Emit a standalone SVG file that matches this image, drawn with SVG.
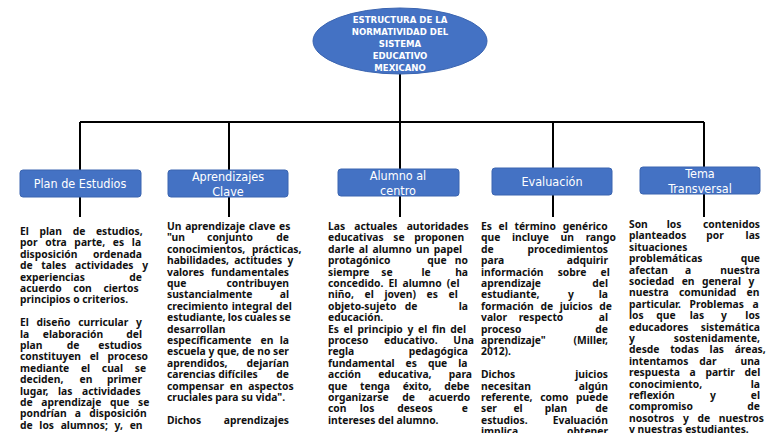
<svg xmlns="http://www.w3.org/2000/svg" width="768" height="433" viewBox="0 0 768 433">
<style>
.n{fill:#4472c4;stroke:#3a64b0;stroke-width:1}
.lbl{font-family:"DejaVu Sans Condensed","DejaVu Sans",sans-serif;font-size:12.5px;fill:#fff;text-anchor:middle}
.ttl{font-family:"DejaVu Sans Condensed","DejaVu Sans",sans-serif;font-size:9.5px;font-weight:bold;fill:#fff;text-anchor:middle}
.c{stroke:#000;stroke-width:2;fill:none}
.t text{font-family:"Noto Sans","Open Sans",sans-serif;font-size:10.3px;font-weight:bold;fill:#111}
.t .m{text-anchor:middle}
.t .e{text-anchor:end}
</style>
<rect width="768" height="433" fill="#fff"/>
<g id="connectors">
<path class="c" d="M400 74V122M80 122H704M80 122V170M229 122V170M400 122V169M553 122V168M704 122V167M80 197V217M229 197V217M400 196V217M553 195V217M704 194V217"/>
</g>
<g id="root">
<ellipse class="n" cx="400" cy="41" rx="87" ry="33"/>
<text class="ttl"><tspan x="400" y="23">ESTRUCTURA DE LA</tspan><tspan x="400" y="35">NORMATIVIDAD DEL</tspan><tspan x="400" y="47">SISTEMA</tspan><tspan x="400" y="59">EDUCATIVO</tspan><tspan x="400" y="71">MEXICANO</tspan></text>
</g>
<g id="plan"><rect class="n" x="20" y="170" width="121" height="27" rx="3"/><text class="lbl" x="80" y="188">Plan de Estudios</text></g>
<g id="aprendizajes"><rect class="n" x="168" y="170" width="120" height="27" rx="3"/><text class="lbl"><tspan x="228" y="181">Aprendizajes</tspan><tspan x="228" y="196">Clave</tspan></text></g>
<g id="alumno"><rect class="n" x="338" y="169" width="121" height="27" rx="3"/><text class="lbl"><tspan x="398" y="180">Alumno al</tspan><tspan x="398" y="195">centro</tspan></text></g>
<g id="evaluacion"><rect class="n" x="492" y="168" width="120" height="27" rx="3"/><text class="lbl" x="552" y="186">Evaluación</text></g>
<g id="tema"><rect class="n" x="640" y="167" width="120" height="27" rx="3"/><text class="lbl"><tspan x="700" y="178">Tema</tspan><tspan x="700" y="193">Transversal</tspan></text></g>
<g id="texto-plan" class="t">
<text x="20" y="235" word-spacing="8">El plan de estudios,</text>
<text x="20" y="246.4" word-spacing="5">por otra parte, es la</text>
<text x="20" y="257.8">disposición</text><text class="e" x="142" y="257.8">ordenada</text>
<text x="20" y="269.2" word-spacing="6">de tales actividades y</text>
<text x="20" y="280.6">experiencias</text><text class="e" x="142" y="280.6">de</text>
<text x="20" y="292" word-spacing="9">acuerdo con ciertos</text>
<text x="20" y="303.4">principios o criterios.</text>
<text x="20" y="326.2" word-spacing="5">El diseño curricular y</text>
<text x="20" y="337.6">la</text><text class="m" x="73" y="337.6">elaboración</text><text class="e" x="142" y="337.6">del</text>
<text x="20" y="349">plan</text><text class="m" x="73" y="349">de</text><text class="e" x="142" y="349">estudios</text>
<text x="20" y="360.4" word-spacing="6">constituyen el proceso</text>
<text x="20" y="371.8" word-spacing="9">mediante el cual se</text>
<text x="20" y="383.2">deciden,</text><text class="m" x="86" y="383.2">en</text><text class="e" x="142" y="383.2">primer</text>
<text x="20" y="394.6" word-spacing="7">lugar, las actividades</text>
<text x="20" y="406" word-spacing="6">de aprendizaje que se</text>
<text x="20" y="417.4" word-spacing="5.5">pondrían a disposición</text>
<text x="20" y="428.8" word-spacing="4">de los alumnos; y, en</text>
</g>
<g id="texto-aprendizajes" class="t">
<text x="167" y="230" word-spacing="1">Un aprendizaje clave es</text>
<text x="167" y="241.4">"un</text><text class="m" x="230" y="241.4">conjunto</text><text class="e" x="289" y="241.4">de</text>
<text x="167" y="252.8" word-spacing="4">conocimientos, prácticas,</text>
<text x="167" y="264.2" word-spacing="2.5">habilidades, actitudes y</text>
<text x="167" y="275.6">valores</text><text class="e" x="289" y="275.6">fundamentales</text>
<text x="167" y="287">que</text><text class="e" x="289" y="287">contribuyen</text>
<text x="167" y="298.4">sustancialmente</text><text class="e" x="289" y="298.4">al</text>
<text x="167" y="309.8" word-spacing="1">crecimiento integral del</text>
<text x="167" y="321.2" word-spacing="-0.5">estudiante, los cuales se</text>
<text x="167" y="332.6">desarrollan</text>
<text x="167" y="344">específicamente</text><text class="m" x="267" y="344">en</text><text class="e" x="289" y="344">la</text>
<text x="167" y="355.4">escuela y que, de no ser</text>
<text x="167" y="366.8">aprendidos,</text><text class="e" x="289" y="366.8">dejarían</text>
<text x="167" y="378.2">carencias</text><text class="m" x="238" y="378.2">difíciles</text><text class="e" x="289" y="378.2">de</text>
<text x="167" y="389.6" word-spacing="3">compensar en aspectos</text>
<text x="167" y="401">cruciales para su vida".</text>
<text x="167" y="423.8">Dichos</text><text class="e" x="289" y="423.8">aprendizajes</text>
</g>
<g id="texto-alumno" class="t">
<text x="328" y="230" word-spacing="6.5">Las actuales autoridades</text>
<text x="328" y="241.4" word-spacing="7">educativas se proponen</text>
<text x="328" y="252.8" word-spacing="1.7">darle al alumno un papel</text>
<text x="328" y="264.2">protagónico</text><text class="m" x="437" y="264.2">que</text><text class="e" x="468" y="264.2">no</text>
<text x="328" y="275.6">siempre</text><text class="m" x="387" y="275.6">se</text><text class="m" x="426" y="275.6">le</text><text class="e" x="468" y="275.6">ha</text>
<text x="328" y="287" word-spacing="2.5">concedido. El alumno (el</text>
<text x="328" y="298.4" word-spacing="8">niño, el joven) es el</text>
<text x="328" y="309.8">objeto-sujeto</text><text class="m" x="411" y="309.8">de</text><text class="e" x="468" y="309.8">la</text>
<text x="328" y="321.2">educación.</text>
<text x="328" y="332.6" word-spacing="2">Es el principio y el fin del</text>
<text x="328" y="344" word-spacing="13">proceso educativo. Una</text>
<text x="328" y="355.4">regla</text><text class="e" x="468" y="355.4">pedagógica</text>
<text x="328" y="366.8" word-spacing="8.3">fundamental es que la</text>
<text x="328" y="378.2" word-spacing="14.5">acción educativa, para</text>
<text x="328" y="389.6" word-spacing="10">que tenga éxito, debe</text>
<text x="328" y="401" word-spacing="11">organizarse de acuerdo</text>
<text x="328" y="412.4">con</text><text class="m" x="367" y="412.4">los</text><text class="m" x="415" y="412.4">deseos</text><text class="e" x="468" y="412.4">e</text>
<text x="328" y="423.8">intereses del alumno.</text>
</g>
<g id="texto-evaluacion" class="t">
<text x="481" y="230" word-spacing="4">Es el término genérico</text>
<text x="481" y="241.4" word-spacing="9">que incluye un rango</text>
<text x="481" y="252.8">de</text><text class="e" x="608" y="252.8">procedimientos</text>
<text x="481" y="264.2">para</text><text class="e" x="608" y="264.2">adquirir</text>
<text x="481" y="275.6" word-spacing="11.5">información sobre el</text>
<text x="481" y="287">aprendizaje</text><text class="e" x="608" y="287">del</text>
<text x="481" y="298.4">estudiante,</text><text class="m" x="571" y="298.4">y</text><text class="e" x="608" y="298.4">la</text>
<text x="481" y="309.8" word-spacing="4">formación de juicios de</text>
<text x="481" y="321.2">valor</text><text class="m" x="541" y="321.2">respecto</text><text class="e" x="608" y="321.2">al</text>
<text x="481" y="332.6">proceso</text><text class="e" x="608" y="332.6">de</text>
<text x="481" y="344">aprendizaje"</text><text class="e" x="608" y="344">(Miller,</text>
<text x="481" y="355.4">2012).</text>
<text x="481" y="378.2">Dichos</text><text class="e" x="608" y="378.2">juicios</text>
<text x="481" y="389.6">necesitan</text><text class="e" x="608" y="389.6">algún</text>
<text x="481" y="401" word-spacing="5">referente, como puede</text>
<text x="481" y="412.4">ser</text><text class="m" x="518" y="412.4">el</text><text class="m" x="556" y="412.4">plan</text><text class="e" x="608" y="412.4">de</text>
<text x="481" y="423.8">estudios.</text><text class="e" x="608" y="423.8">Evaluación</text>
<text x="481" y="435.2">implica</text><text class="e" x="608" y="435.2">obtener</text>
</g>
<g id="texto-tema" class="t">
<text x="629" y="228">Son</text><text class="m" x="674" y="228">los</text><text class="e" x="760" y="228">contenidos</text>
<text x="629" y="239.4">planteados</text><text class="m" x="715" y="239.4">por</text><text class="e" x="760" y="239.4">las</text>
<text x="629" y="250.8">situaciones</text>
<text x="629" y="262.2">problemáticas</text><text class="e" x="760" y="262.2">que</text>
<text x="629" y="273.6">afectan</text><text class="m" x="688" y="273.6">a</text><text class="e" x="760" y="273.6">nuestra</text>
<text x="629" y="285" word-spacing="4.7">sociedad en general y</text>
<text x="629" y="296.4" word-spacing="7.5">nuestra comunidad en</text>
<text x="629" y="307.8" word-spacing="6">particular. Problemas a</text>
<text x="629" y="319.2">los</text><text class="m" x="666" y="319.2">que</text><text class="m" x="697" y="319.2">las</text><text class="m" x="724" y="319.2">y</text><text class="e" x="760" y="319.2">los</text>
<text x="629" y="330.6">educadores</text><text class="e" x="760" y="330.6">sistemática</text>
<text x="629" y="342">y</text><text class="e" x="760" y="342">sostenidamente,</text>
<text x="629" y="353.4" word-spacing="8">desde todas las áreas,</text>
<text x="629" y="364.8">intentamos</text><text class="m" x="708" y="364.8">dar</text><text class="e" x="760" y="364.8">una</text>
<text x="629" y="376.2" word-spacing="7">respuesta a partir del</text>
<text x="629" y="387.6">conocimiento,</text><text class="e" x="760" y="387.6">la</text>
<text x="629" y="399">reflexión</text><text class="m" x="713" y="399">y</text><text class="e" x="760" y="399">el</text>
<text x="629" y="410.4">compromiso</text><text class="e" x="760" y="410.4">de</text>
<text x="629" y="421.8" word-spacing="6">nosotros y de nuestros</text>
<text x="629" y="433.2">y nuestras estudiantes.</text>
</g>
</svg>
